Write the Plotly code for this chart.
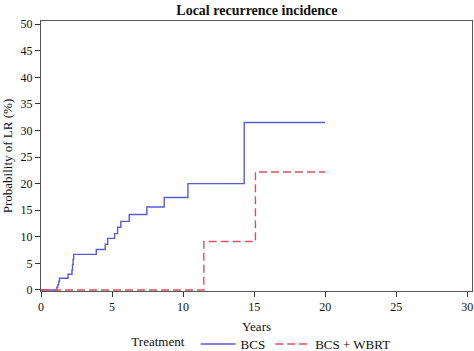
import plotly.graph_objects as go

bcs_years = [0, 1.12, 1.18, 1.25, 1.3, 1.9, 2.18, 2.22, 2.26, 2.3, 3.89, 4.52, 4.69, 5.18, 5.39, 5.62, 6.21, 7.45, 8.67, 10.34, 14.3, 20.0]
bcs_prob = [0, 0.5, 1.0, 1.6, 2.2, 2.95, 3.8, 4.8, 5.8, 6.7, 7.6, 8.6, 9.7, 10.6, 11.8, 12.9, 14.2, 15.6, 17.4, 20.0, 31.5, 31.5]
wbrt_years = [0, 11.46, 15.09, 20.0]
wbrt_prob = [0, 9.1, 22.2, 22.2]
x_ticks = [0, 5, 10, 15, 20, 25, 30]
y_ticks = [0, 5, 10, 15, 20, 25, 30, 35, 40, 45, 50]

serif = "Liberation Serif"

fig = go.Figure()
fig.add_trace(go.Scatter(x=bcs_years, y=bcs_prob, mode="lines", name="BCS",
                         line=dict(shape="hv", color="#5b5bd6", width=1.4)))
fig.add_trace(go.Scatter(x=wbrt_years, y=wbrt_prob, mode="lines", name="BCS + WBRT",
                         line=dict(shape="hv", color="#d9535e", width=1.4, dash="8px,4px")))

axis_common = dict(showline=True, mirror=True, linecolor="#555555", linewidth=1.2,
                   ticks="outside", ticklen=5, tickcolor="#333333", showgrid=False,
                   zeroline=False, tickfont=dict(family=serif, size=12, color="#111111"))

fig.update_layout(
    width=474, height=351,
    margin=dict(l=41, r=2, t=21, b=60, autoexpand=False),
    paper_bgcolor="white", plot_bgcolor="white",
    title=dict(text="<b>Local recurrence incidence</b>", x=0.542, xanchor="center",
               y=0.985, yanchor="top", font=dict(family=serif, size=14, color="#111111")),
    xaxis=dict(range=[0, 30.33], tickvals=x_ticks, ticklabelstandoff=-1, **axis_common),
    yaxis=dict(range=[-0.2, 50.6], tickvals=y_ticks, **axis_common,
               title=dict(text="Probability of LR (%)", font=dict(family=serif, size=13, color="#111111"), standoff=4)),
    legend=dict(orientation="h", x=0.205, xanchor="left", yref="container", y=0.02, yanchor="middle",
                title=dict(text="Treatment ", side="left", font=dict(family=serif, size=13, color="#111111")),
                font=dict(family=serif, size=13, color="#111111"), itemwidth=35),
    annotations=[dict(text="Years", xref="paper", yref="paper", x=0.5, y=-0.133,
                      xanchor="center", yanchor="middle", showarrow=False,
                      font=dict(family=serif, size=13, color="#111111"))],
    showlegend=True,
)

fig.write_html("out.html")
